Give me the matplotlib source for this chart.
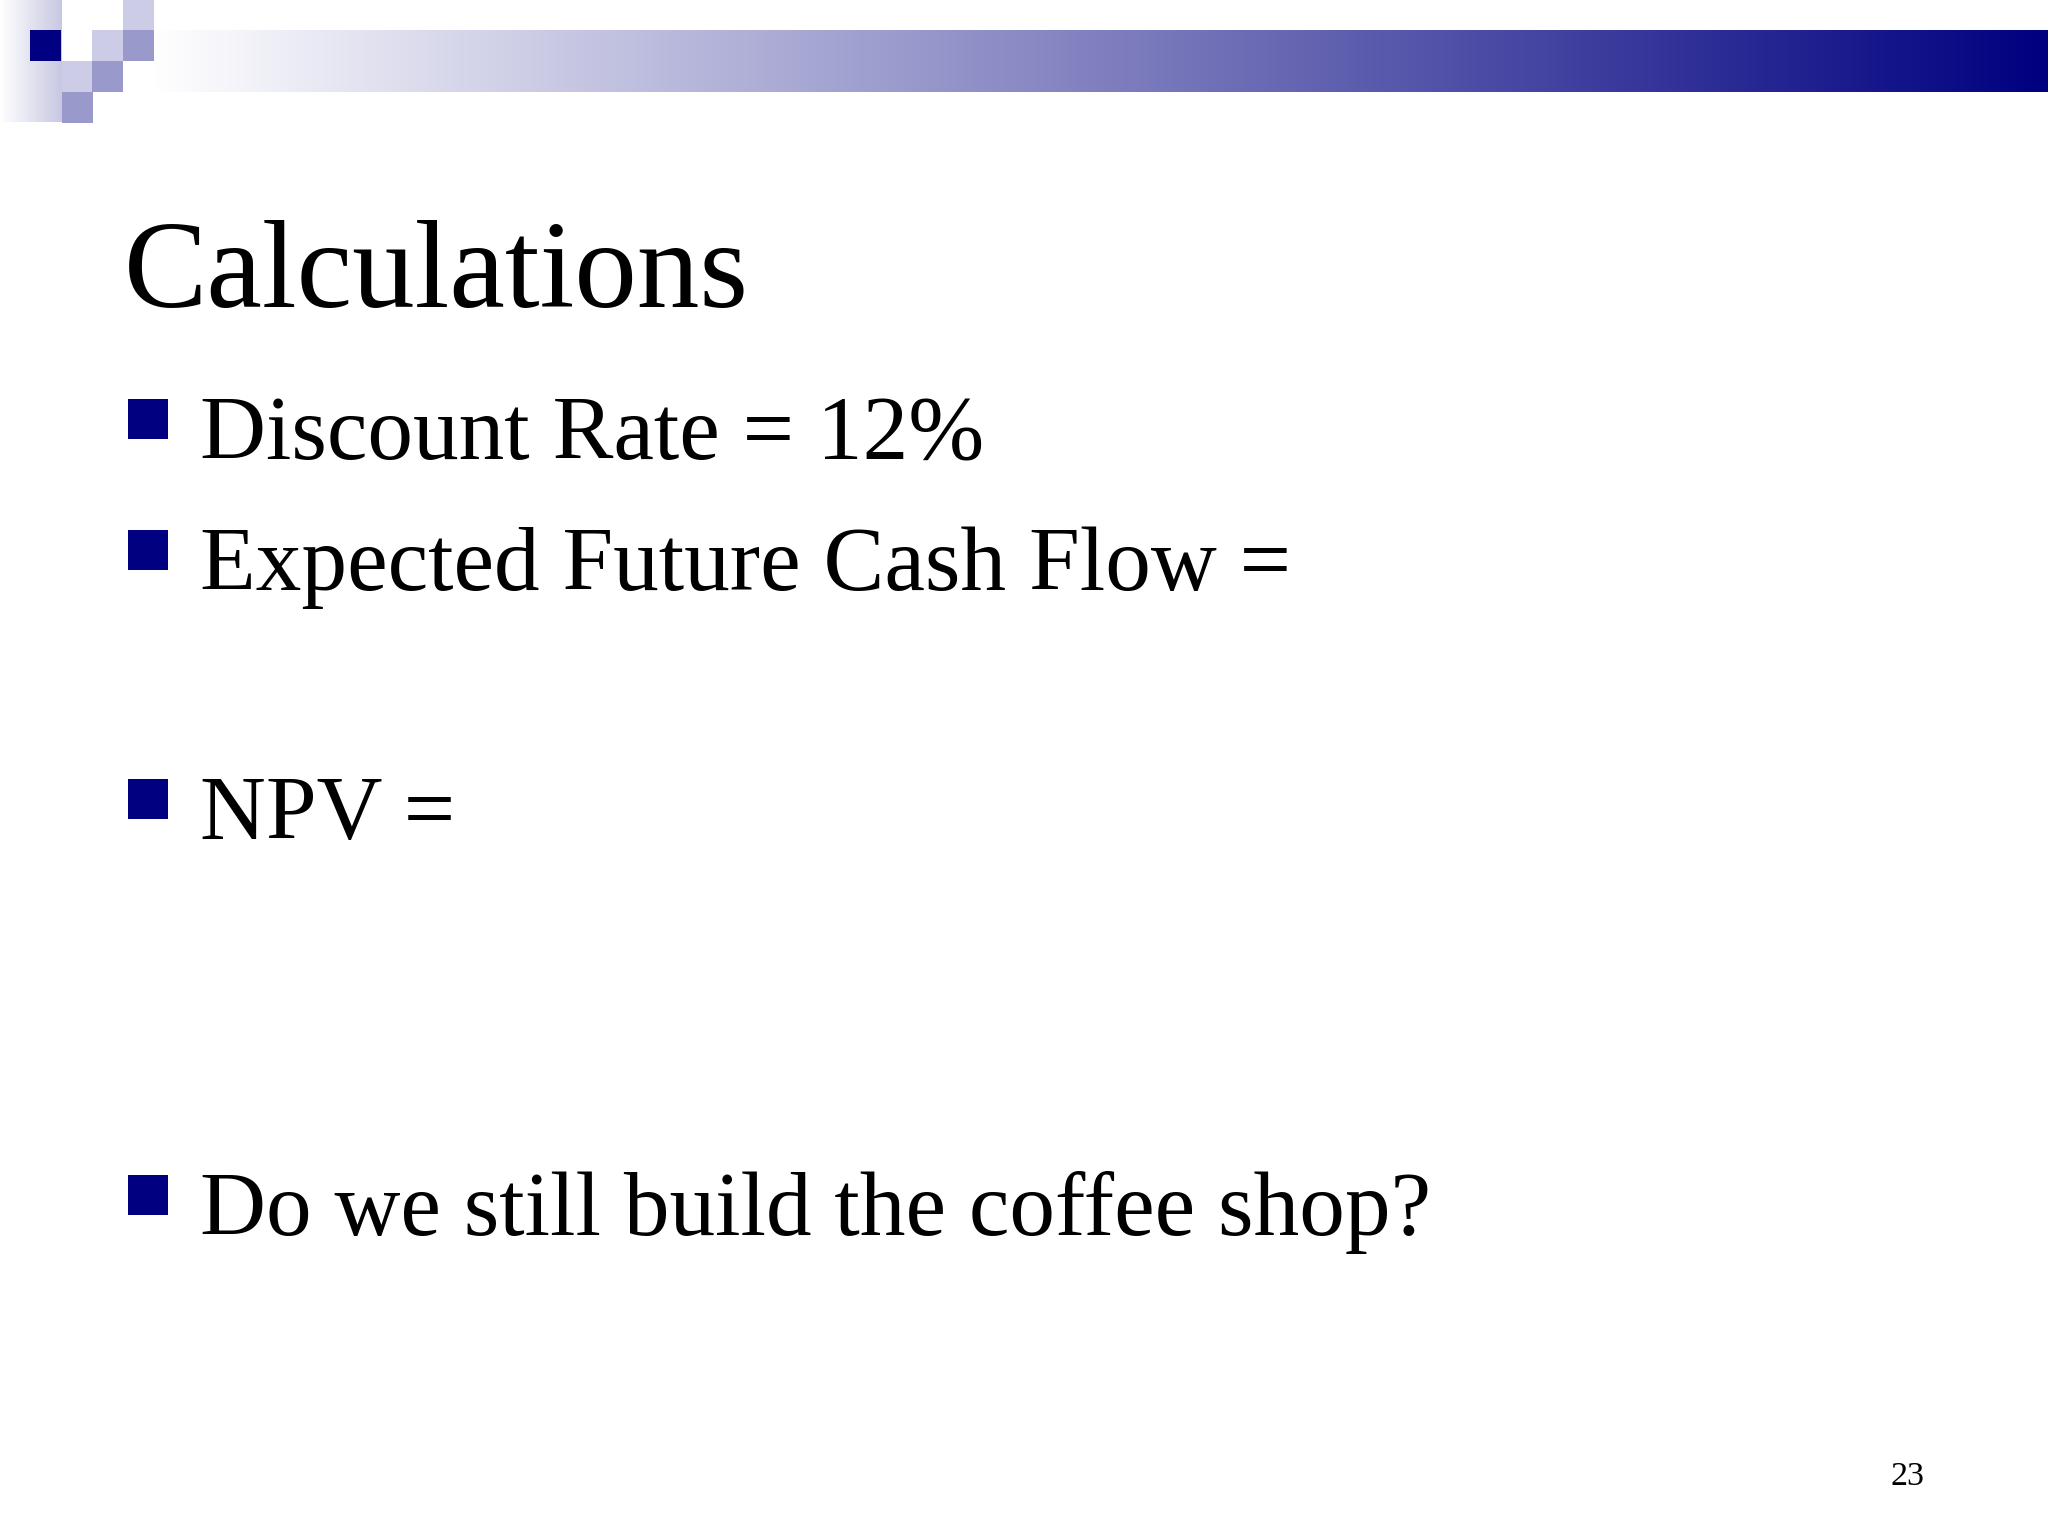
import numpy as np
import matplotlib
matplotlib.use("Agg")
import matplotlib.pyplot as plt
from matplotlib.patches import Rectangle

# ---- content ----
title = "Calculations"
bullets = [
    "Discount Rate = 12%",
    "Expected Future Cash Flow =",
    "NPV =",
    "Do we still build the coffee shop?",
]
page_number = "23"

# ---- layout (pixel coordinates on a 2048x1536 canvas) ----
W, H = 2048, 1536
baselines = [459, 590, 839, 1235]
NAVY = "#000080"
LIGHT = "#CCCCE6"
MEDIUM = "#9999CC"

plt.rcParams["font.family"] = ["Liberation Serif", "DejaVu Serif"]

fig = plt.figure(figsize=(W / 100, H / 100), dpi=100)
ax = fig.add_axes([0, 0, 1, 1])
ax.set_xlim(0, W)
ax.set_ylim(H, 0)
ax.axis("off")

def px(v):  # pixel font size -> points at dpi 100
    return v * 0.72

# horizontal gradient band (white -> navy)
navy_rgb = np.array([0, 0, 128]) / 255.0
t = np.linspace(0, 1, 512)
grad = (1 - t)[:, None] * np.ones(3)[None, :] + t[:, None] * navy_rgb[None, :]
ax.imshow(grad[None, :, :], extent=(153, W, 92, 30), aspect="auto",
          interpolation="bilinear", zorder=1)

# left vertical gradient strip (white -> lavender)
lav = np.array([200, 200, 226]) / 255.0
t2 = np.linspace(0, 1, 64)
grad2 = (1 - t2)[:, None] * np.ones(3)[None, :] + t2[:, None] * lav[None, :]
ax.imshow(grad2[None, :, :], extent=(0, 62, 122, 0), aspect="auto",
          interpolation="bilinear", zorder=1)

# pixel squares
s = 30.7
squares = [
    (30, 30, NAVY),
    (123, 0, LIGHT), (92, 30, LIGHT), (62, 61, LIGHT),
    (123, 30, MEDIUM), (92, 61, MEDIUM), (62, 92, MEDIUM),
]
for x0, y0, c in squares:
    ax.add_patch(Rectangle((x0, y0), s, s, facecolor=c, edgecolor="none", zorder=2))

# title
ax.text(124, 307, title, fontsize=px(125), color="black", va="baseline", ha="left")

# bullets
for txt, bl in zip(bullets, baselines):
    ax.add_patch(Rectangle((128, bl - 60), 40, 40, facecolor=NAVY, edgecolor="none", zorder=2))
    ax.text(200, bl, txt, fontsize=px(91.2), color="black", va="baseline", ha="left")

# page number
ax.text(1908, 1485, page_number, fontsize=px(34), color="black", va="baseline", ha="center")

fig.savefig("out.png", dpi=100, facecolor="white")
